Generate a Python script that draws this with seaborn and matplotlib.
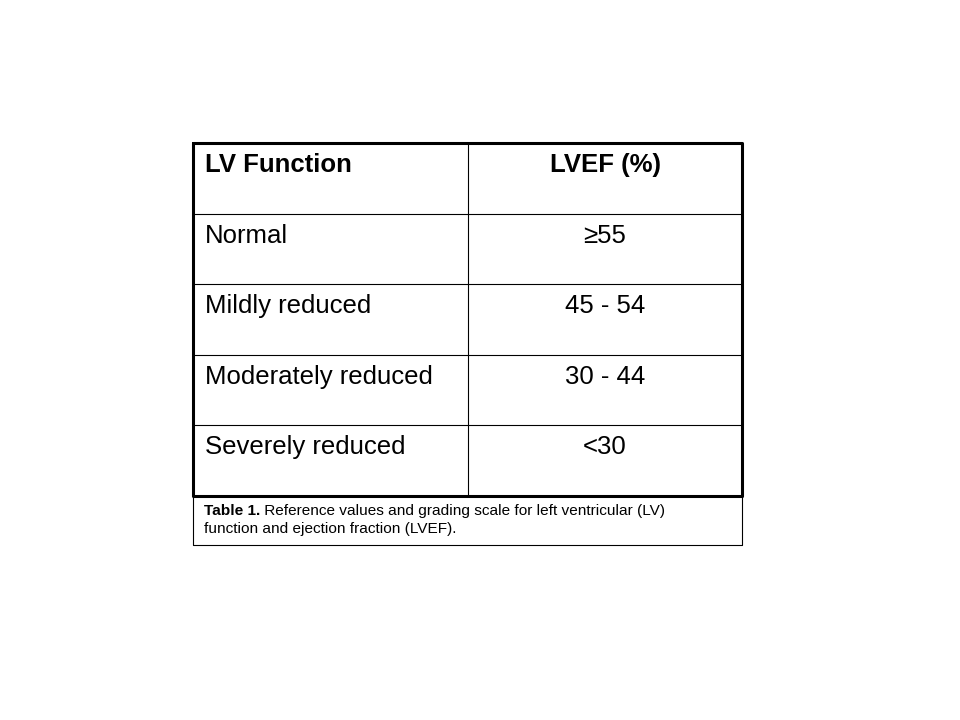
import matplotlib.pyplot as plt
import seaborn as sns

sns.set_style('white')
plt.rcParams['font.family'] = ['Liberation Sans', 'DejaVu Sans']
plt.rcParams['text.color'] = 'black'

headers = ['LV Function', 'LVEF (%)']
functions = ['Normal', 'Mildly reduced', 'Moderately reduced', 'Severely reduced']
lvef = ['≥55', '45 - 54', '30 - 44', '<30']
caption_bold = 'Table 1.'
caption_rest = ' Reference values and grading scale for left ventricular (LV)'
caption_line2 = 'function and ejection fraction (LVEF).'

fig = plt.figure(figsize=(9.6, 7.2), dpi=100)
ax = fig.add_axes([0, 0, 1, 1])
ax.set_xlim(0, 960)
ax.set_ylim(720, 0)
ax.axis('off')

x0, xm, x1 = 193, 468, 742
y_top, row_h = 143, 70.6
n_rows = len(functions) + 1
y_bot = y_top + n_rows * row_h

# outer thick box
ax.plot([x0, x1, x1, x0, x0], [y_top, y_top, y_bot, y_bot, y_top], color='black', lw=2.2)
ax.plot([xm, xm], [y_top, y_bot], color='black', lw=0.8)
for i in range(1, n_rows):
    y = y_top + i * row_h
    ax.plot([x0, x1], [y, y], color='black', lw=0.8)

rows = [headers] + [[f, v] for f, v in zip(functions, lvef)]
for i, (left, right) in enumerate(rows):
    yc = y_top + i * row_h + 22
    weight = 'bold' if i == 0 else 'normal'
    ax.text(205, yc, left, fontsize=18.5, fontweight=weight, va='center', ha='left')
    ax.text((xm + x1) / 2, yc, right, fontsize=18.5, fontweight=weight, va='center', ha='center')

# caption box
cap_bot = 545
ax.plot([x0, x0, x1, x1], [y_bot, cap_bot, cap_bot, y_bot], color='black', lw=0.8)
t = ax.text(204, 511, caption_bold, fontsize=11.1, fontweight='bold', va='center', ha='left')
fig.canvas.draw()
bb = t.get_window_extent()
x_after = ax.transData.inverted().transform((bb.x1, bb.y0))[0]
ax.text(x_after, 511, caption_rest, fontsize=11.1, va='center', ha='left')
ax.text(204, 529, caption_line2, fontsize=11.1, va='center', ha='left')

fig.savefig('out.png', dpi=100)
